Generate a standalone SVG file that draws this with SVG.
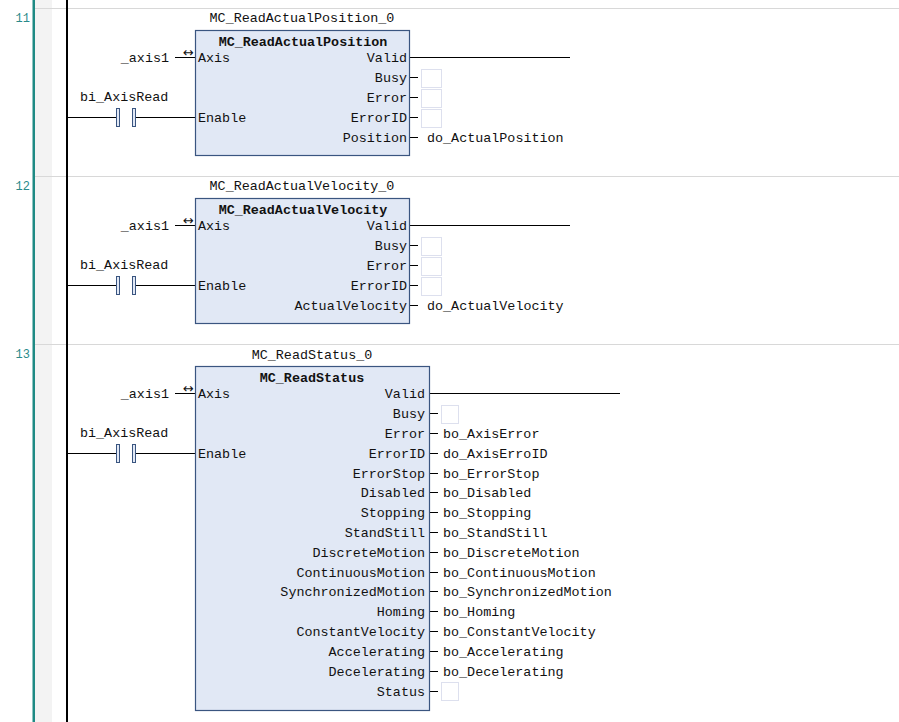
<svg xmlns="http://www.w3.org/2000/svg" width="899" height="722" viewBox="0 0 899 722">
<style>
text{font-family:"Liberation Mono","Courier New",monospace;font-size:13.4px;fill:#111}
.b{font-weight:bold}
.r{text-anchor:end}
.m{text-anchor:middle}
.n{fill:#2a8a8a;font-size:12px;text-anchor:end}
.a{font-size:13px;font-family:"DejaVu Sans",sans-serif}
.fb{fill:#e1e8f5;stroke:#3a5580;stroke-width:1.2}
.w{stroke:#000;stroke-width:1.2;fill:none}
.e{fill:#fff;stroke:#dde0ee;stroke-width:1}
.c{fill:#e1e8f5;stroke:#3a5580;stroke-width:1}
.sep{stroke:#d8d8d8;stroke-width:1}
</style>
<rect width="899" height="722" fill="#fff"/>
<rect x="35" y="0" width="17" height="722" fill="#f3f3f3"/>
<rect x="32.5" y="0" width="2.5" height="722" fill="#1e8a84"/>
<line class="sep" x1="35" y1="8.5" x2="899" y2="8.5"/>
<line class="sep" x1="35" y1="176.5" x2="899" y2="176.5"/>
<line class="sep" x1="35" y1="344.5" x2="899" y2="344.5"/>
<rect x="66" y="0" width="2" height="722" fill="#000"/>
<text class="n" x="30" y="22">11</text>
<text class="n" x="30" y="190">12</text>
<text class="n" x="30" y="358">13</text>

<g id="connectors">
<path class="w" d="M68 117.5H116M136 117.5H195M175 57.5H195M410 57.5H570M410 77.5H418M410 97.5H418M410 117.5H418M410 137.5H418"/>
<path class="w" d="M68 285.5H116M136 285.5H195M175 225.5H195M410 225.5H570M410 245.5H418M410 265.5H418M410 285.5H418M410 305.5H418"/>
<path class="w" d="M68 453.5H116M136 453.5H195M175 393.5H195M430 393.5H620"/>
<path class="w" d="M430 413.5h8M430 433.5h8M430 453.5h8M430 473.5h8M430 492.5h8M430 512.5h8M430 532.5h8M430 552.5h8M430 572.5h8M430 591.5h8M430 611.5h8M430 631.5h8M430 651.5h8M430 671.5h8M430 691.5h8"/>
</g>

<g id="n11">
<text class="m" x="302" y="22">MC_ReadActualPosition_0</text>
<rect class="fb" x="195.5" y="30.5" width="214" height="125"/>
<text class="b m" x="303" y="46">MC_ReadActualPosition</text>
<text class="r" x="169" y="62">_axis1</text>
<text class="a" x="183" y="57">↔</text>
<text x="198" y="62">Axis</text>
<text x="198" y="122">Enable</text>
<text x="80" y="101">bi_AxisRead</text>
<rect class="c" x="116.5" y="108.5" width="3" height="18"/><rect class="c" x="132.5" y="108.5" width="3" height="18"/>
<text class="r" x="407" y="62">Valid</text>
<text class="r" x="407" y="82">Busy</text>
<text class="r" x="407" y="102">Error</text>
<text class="r" x="407" y="122">ErrorID</text>
<text class="r" x="407" y="142">Position</text>
<rect class="e" x="421.5" y="69.5" width="20" height="18"/>
<rect class="e" x="421.5" y="89.5" width="20" height="18"/>
<rect class="e" x="421.5" y="109.5" width="20" height="18"/>
<text x="427" y="142">do_ActualPosition</text>
</g>

<g id="n12">
<text class="m" x="302" y="190">MC_ReadActualVelocity_0</text>
<rect class="fb" x="195.5" y="198.5" width="214" height="125"/>
<text class="b m" x="303" y="214">MC_ReadActualVelocity</text>
<text class="r" x="169" y="230">_axis1</text>
<text class="a" x="183" y="225">↔</text>
<text x="198" y="230">Axis</text>
<text x="198" y="290">Enable</text>
<text x="80" y="269">bi_AxisRead</text>
<rect class="c" x="116.5" y="276.5" width="3" height="18"/><rect class="c" x="132.5" y="276.5" width="3" height="18"/>
<text class="r" x="407" y="230">Valid</text>
<text class="r" x="407" y="250">Busy</text>
<text class="r" x="407" y="270">Error</text>
<text class="r" x="407" y="290">ErrorID</text>
<text class="r" x="407" y="310">ActualVelocity</text>
<rect class="e" x="421.5" y="237.5" width="20" height="18"/>
<rect class="e" x="421.5" y="257.5" width="20" height="18"/>
<rect class="e" x="421.5" y="277.5" width="20" height="18"/>
<text x="427" y="310">do_ActualVelocity</text>
</g>

<g id="n13">
<text class="m" x="312" y="359">MC_ReadStatus_0</text>
<rect class="fb" x="195.5" y="366.5" width="234" height="344"/>
<text class="b m" x="312" y="382">MC_ReadStatus</text>
<text class="r" x="169" y="398">_axis1</text>
<text class="a" x="183" y="393">↔</text>
<text x="198" y="398">Axis</text>
<text x="198" y="458">Enable</text>
<text x="80" y="437">bi_AxisRead</text>
<rect class="c" x="116.5" y="444.5" width="3" height="18"/><rect class="c" x="132.5" y="444.5" width="3" height="18"/>
<text class="r" x="425" y="398">Valid</text>
<text class="r" x="425" y="418">Busy</text>
<text class="r" x="425" y="438">Error</text>
<text class="r" x="425" y="458">ErrorID</text>
<text class="r" x="425" y="478">ErrorStop</text>
<text class="r" x="425" y="497">Disabled</text>
<text class="r" x="425" y="517">Stopping</text>
<text class="r" x="425" y="537">StandStill</text>
<text class="r" x="425" y="557">DiscreteMotion</text>
<text class="r" x="425" y="577">ContinuousMotion</text>
<text class="r" x="425" y="596">SynchronizedMotion</text>
<text class="r" x="425" y="616">Homing</text>
<text class="r" x="425" y="636">ConstantVelocity</text>
<text class="r" x="425" y="656">Accelerating</text>
<text class="r" x="425" y="676">Decelerating</text>
<text class="r" x="425" y="696">Status</text>
<rect class="e" x="441.5" y="405.5" width="17" height="18"/>
<rect class="e" x="441.5" y="682.5" width="17" height="18"/>
<text x="443" y="438">bo_AxisError</text>
<text x="443" y="458">do_AxisErroID</text>
<text x="443" y="478">bo_ErrorStop</text>
<text x="443" y="497">bo_Disabled</text>
<text x="443" y="517">bo_Stopping</text>
<text x="443" y="537">bo_StandStill</text>
<text x="443" y="557">bo_DiscreteMotion</text>
<text x="443" y="577">bo_ContinuousMotion</text>
<text x="443" y="596">bo_SynchronizedMotion</text>
<text x="443" y="616">bo_Homing</text>
<text x="443" y="636">bo_ConstantVelocity</text>
<text x="443" y="656">bo_Accelerating</text>
<text x="443" y="676">bo_Decelerating</text>
</g>
</svg>
